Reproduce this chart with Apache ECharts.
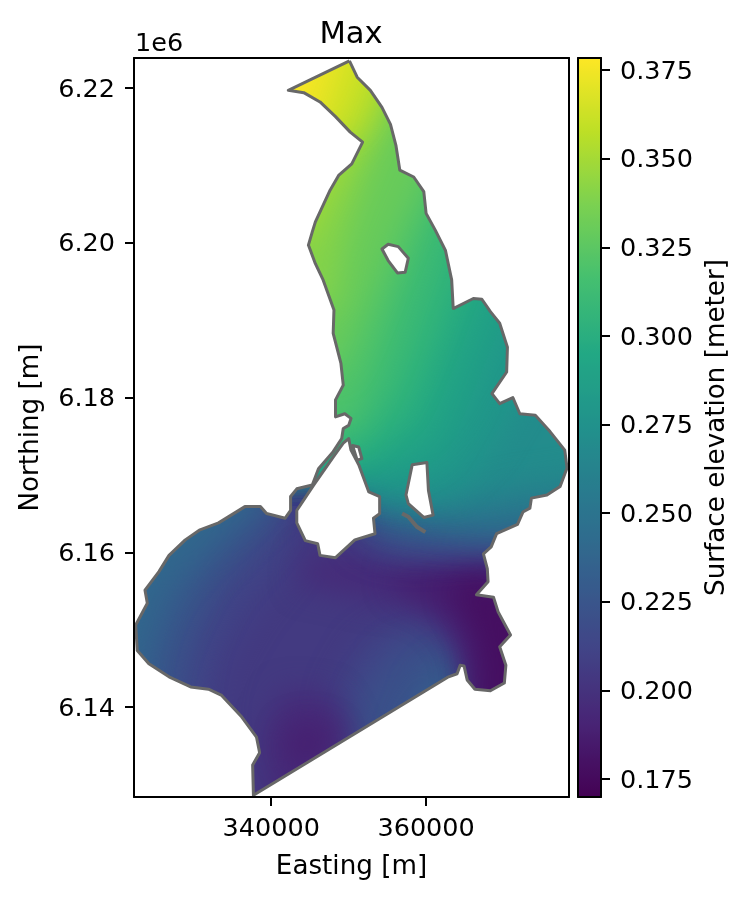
<!DOCTYPE html>
<html>
<head>
<meta charset="utf-8">
<title>Max</title>
<script src="https://cdn.jsdelivr.net/npm/echarts@6/dist/echarts.min.js"></script>
<style>
  html, body { margin: 0; padding: 0; background: #fff; }
  #chart { width: 751px; height: 898px; }
</style>
</head>
<body>
<div id="chart"></div>
<script>
const eastingRange = [322280, 378450];
const northingRange = [6128370, 6223880];
const colorRange = [0.1699, 0.3784];
const eastingTicks = [340000, 360000];
const northingTicks = [6140000, 6160000, 6180000, 6200000, 6220000];
const colorTicks = [0.175, 0.2, 0.225, 0.25, 0.275, 0.3, 0.325, 0.35, 0.375];
const viridis = ['#440154', '#482475', '#414487', '#355f8d', '#2a788e', '#21918c', '#22a884', '#44bf70', '#7ad151', '#bddf26', '#fde725'];

// lake shore, clockwise from the north tip
const shoreline = [
  [350100,6223500],[351100,6221400],[352800,6219700],[354300,6217500],[355400,6215300],[356100,6212600],
  [356600,6209400],[358400,6208500],[359700,6206600],[360000,6203800],[361200,6201600],[362500,6199000],
  [363300,6195200],[363500,6191500],[366100,6192800],[367200,6192700],[368300,6191100],[369500,6189600],
  [370500,6186500],[370400,6183300],[368500,6180500],[369500,6179200],[371200,6180000],[372100,6177900],
  [374100,6177700],[376000,6175600],[377900,6173200],[378200,6170900],[377300,6168500],[375600,6167400],
  [373600,6167000],[373400,6165700],[372500,6165200],[371800,6163600],[369100,6162400],[368400,6160700],
  [367400,6159800],[367900,6157900],[368000,6156200],[366500,6154500],[368700,6154200],[369300,6152300],
  [370900,6149300],[369500,6147800],[370300,6145400],[370100,6143100],[368300,6142100],[366300,6142300],
  [365300,6143500],[364900,6145300],[364400,6145400],[364000,6144300],[362900,6143900],[337700,6128600],
  [337600,6132500],[338500,6134100],[338100,6136100],[336200,6138700],[333600,6141500],[331900,6142300],
  [329600,6142600],[326800,6143900],[324200,6145600],[322700,6147300],[322500,6150600],[324000,6153400],
  [323700,6155100],[325500,6157500],[326800,6159600],[328900,6161600],[330800,6162900],[333200,6163800],
  [336600,6165900],[338600,6165900],[339400,6165000],[341800,6164400],[342500,6165400],[342500,6167200],
  [343300,6168200],[345300,6168700],[346100,6170800],[348000,6173000],[349100,6174700],[349300,6176000],
  [350000,6176400],[350300,6177300],[349500,6177900],[348300,6177500],[348300,6179700],[349300,6181600],
  [349000,6184400],[348000,6188300],[348100,6191300],[346700,6195200],[345700,6197300],[344800,6199700],
  [345300,6201400],[345700,6202700],[347600,6206800],[348700,6208700],[350400,6210200],[351800,6213000],
  [350200,6214300],[348300,6216300],[346300,6218200],[344200,6219400],[342200,6219700]
];
const islandNorth = [[354300,6199200],[355100,6199800],[356400,6199500],[357700,6198000],[357300,6196200],[356300,6196100],[355100,6197700]];
const islandMiddle = [[358200,6171300],[360100,6171600],[360300,6168000],[360900,6164800],[359700,6164500],[357700,6166300],[357400,6167400]];
const islandLarge = [
  [345500,6168700],[348000,6172300],[349300,6174100],[350000,6174700],[350300,6173200],[351300,6171300],
  [352600,6167800],[354000,6167200],[354000,6165000],[353200,6164400],[353400,6162400],[350800,6161600],
  [348300,6159300],[346300,6159600],[346000,6161100],[344400,6161500],[343300,6163800],[343300,6165400]
];
const islandSmall = [[350500,6173800],[351300,6173600],[351700,6172100],[351100,6171900]];
const sandBar = [[356900,6165000],[357700,6164600],[358800,6163300],[359900,6162600]];

const baseLevel = 0.205;
const westLevels = [0.21, 0.22, 0.23, 0.24];
const westLines = [
  [[332800,6140900],[334100,6146000],[337900,6152500],[343100,6158900],[342700,6162900],[342200,6169300]],
  [[329600,6142200],[330800,6148600],[334100,6155100],[339200,6160900],[341400,6164100],[341900,6169300]],
  [[325700,6144100],[327600,6149900],[330800,6156400],[336000,6162200],[339600,6165400],[340500,6169300]],
  [[323100,6146000],[324400,6150600],[326300,6155100],[331500,6160900],[337300,6166100],[338800,6169300]]
];
const patchLevels = [0.212, 0.222, 0.232, 0.195, 0.186, 0.178, 0.195, 0.187];
const patches = [
  [[347600,6133100],[348300,6142200],[351500,6148000],[356600,6151200],[362500,6151200],[365700,6147300],[367000,6135000]],
  [[349500,6133100],[352100,6142200],[356000,6147300],[361200,6148600],[364100,6146700],[365700,6135000]],
  [[356600,6135000],[359900,6143500],[362800,6146000],[364600,6145000],[365700,6135000]],
  [[344400,6159600],[351500,6159600],[359200,6158700],[368300,6159900],[376000,6148600],[375000,6135000],[365700,6135000],[364600,6147300],[361800,6151200],[357900,6153400],[352800,6153800],[347600,6155100],[343700,6155700]],
  [[355400,6157400],[361800,6157400],[367000,6158200],[372000,6153800],[375000,6135000],[367000,6135000],[366100,6146000],[364400,6150600],[360500,6153800],[356600,6155100]],
  [[363100,6155700],[368300,6157000],[374000,6149900],[374000,6135000],[367200,6135000],[367000,6147300],[365700,6151200]],
  [[339900,6124000],[338800,6136400],[341800,6142200],[347600,6141600],[350500,6136400],[345000,6125000]],
  [[343100,6131600],[341800,6136400],[345000,6138000],[348600,6135900]]
];
const northLevels = [0.21, 0.22, 0.23, 0.24, 0.25, 0.26, 0.27, 0.28, 0.29, 0.30, 0.31, 0.32, 0.33, 0.34, 0.35, 0.36, 0.37, 0.38];
const northLines = [
  [[348900,6170600],[351500,6160900],[356600,6159400],[361800,6159600],[367000,6160000],[385000,6162900]],
  [[348900,6170600],[353400,6161800],[356600,6160500],[361800,6160700],[367000,6160800],[385000,6163100]],
  [[348900,6170600],[354100,6162900],[361800,6161800],[368300,6161800],[385000,6163600]],
  [[349500,6170600],[355100,6164100],[361800,6163000],[368300,6162600],[385000,6164400]],
  [[349500,6170600],[355100,6165400],[363100,6164100],[368300,6163400],[385000,6165200]],
  [[349500,6170600],[354700,6166500],[363100,6165400],[372100,6166300],[385000,6167000]],
  [[349500,6170600],[354700,6167100],[363100,6166700],[372100,6168800],[377300,6169500],[385000,6171000]],
  [[349500,6170600],[354100,6168000],[359200,6167800],[363400,6168400],[368300,6173200],[372100,6179600],[375300,6186100],[385000,6192600]],
  [[353000,6170100],[357900,6170600],[361800,6172600],[365700,6179600],[369500,6189300],[372100,6195200]],
  [[352100,6171600],[359200,6176400],[363100,6186100],[366300,6193900],[368300,6199000]],
  [[351200,6173800],[356600,6179600],[359900,6187400],[363100,6196400],[365700,6205500]],
  [[350500,6176400],[354100,6184800],[356600,6192600],[359900,6201600],[363100,6209400]],
  [[348900,6183500],[352800,6192600],[356600,6201600],[360500,6209400]],
  [[348000,6191300],[349500,6200300],[353400,6212000],[356000,6217100]],
  [[344400,6200300],[348300,6208100],[352100,6213900],[354700,6219700]],
  [[350200,6213900],[352800,6218400],[354700,6224200]],
  [[347000,6213900],[348700,6218400],[350800,6224200]],
  [[343800,6216000],[345000,6220000],[346300,6224200]]
];

const outlineColor = '#686868';
const textFont = '"DejaVu Sans", sans-serif';
const tickSize = 25.5;
const nameSize = 26.2;
const fieldBlur = 30;
const blurShift = 2000; // bands are drawn off canvas so only their soft shadow lands in the frame

const pad = 12000; // bands and mask reach past the frame, the series clip cuts them
const outerLeft = eastingRange[0] - pad, outerRight = eastingRange[1] + pad;
const outerBottom = northingRange[0] - pad, outerTop = northingRange[1] + pad;

// build closed rings for the painted bands
let rings = [];
let levels = [];
rings.push([[outerLeft, outerBottom], [outerRight, outerBottom], [outerRight, outerTop], [outerLeft, outerTop]]);
levels.push(baseLevel);
westLines.forEach(function (line, i) {
  let first = line[0], last = line[line.length - 1];
  rings.push([[first[0], outerBottom]].concat(line, [[outerLeft, last[1]], [outerLeft, outerBottom]]));
  levels.push(westLevels[i]);
});
patches.forEach(function (ring, i) {
  rings.push(ring);
  levels.push(patchLevels[i]);
});
northLines.forEach(function (line, i) {
  let first = line[0], last = line[line.length - 1];
  rings.push(line.concat([[last[0], outerTop], [outerLeft, outerTop], [outerLeft, first[1]]]));
  levels.push(northLevels[i]);
});
const bandData = levels.map(function (v, i) { return [i, v]; });

// white cover for everything outside the shore, a keyhole ring around the lake
const tip = shoreline[0];
const landMask = shoreline.concat([tip, [tip[0], outerTop], [outerLeft, outerTop], [outerLeft, outerBottom], [outerRight, outerBottom], [outerRight, outerTop], [tip[0], outerTop], tip]);

function toPixels(api, ring) {
  return ring.map(function (p) { return api.coord(p); });
}

function closed(ring) {
  return ring.concat([ring[0]]);
}

function outlineSeries(points, width) {
  return {
    type: 'line',
    data: points,
    symbol: 'none',
    silent: true,
    z: 5,
    lineStyle: { color: outlineColor, width: width, join: 'round' }
  };
}

function frameAxis(gridIndex, position, range) {
  return {
    type: 'value',
    gridIndex: gridIndex,
    position: position,
    min: range[0],
    max: range[1],
    z: 10,
    axisLine: { show: true, onZero: false, lineStyle: { color: '#000', width: 2 } },
    axisTick: { show: false },
    axisLabel: { show: false },
    splitLine: { show: false }
  };
}

function tickedAxis(gridIndex, position, range, ticks, format, name, nameGap) {
  let axis = frameAxis(gridIndex, position, range);
  axis.axisTick = { show: true, customValues: ticks, length: 9, lineStyle: { color: '#000', width: 2 } };
  axis.axisLabel = { show: true, customValues: ticks, formatter: format, margin: 19, color: '#000', fontFamily: textFont, fontSize: tickSize };
  if (position === 'left' || position === 'right') {
    // nudge the vertical tick labels down onto their ticks
    axis.axisLabel.formatter = function (v) { return '{t|' + format(v) + '}'; };
    axis.axisLabel.rich = { t: { color: '#000', fontFamily: textFont, fontSize: tickSize, padding: [4, 0, 0, 0] } };
  }
  axis.name = name;
  axis.nameLocation = 'middle';
  axis.nameGap = nameGap;
  axis.nameTextStyle = { color: '#000', fontFamily: textFont, fontSize: nameSize };
  return axis;
}

const chart = echarts.init(document.getElementById('chart'), null, { devicePixelRatio: 1 });
chart.setOption({
  animation: false,
  backgroundColor: '#fff',
  title: {
    text: 'Max',
    left: 346,
    top: 15,
    textAlign: 'center',
    textStyle: { color: '#000', fontFamily: textFont, fontSize: 30.6, fontWeight: 'normal' }
  },
  graphic: [{
    type: 'text',
    left: 135,
    top: 31,
    style: { text: '1e6', fill: '#000', font: tickSize + 'px ' + textFont }
  }],
  grid: [
    { left: 134, top: 58, width: 435, height: 739 },
    { left: 578, top: 58, width: 23, height: 739 }
  ],
  xAxis: [
    tickedAxis(0, 'bottom', eastingRange, eastingTicks, function (v) { return String(v); }, 'Easting [m]', 57),
    frameAxis(0, 'top', eastingRange),
    frameAxis(1, 'bottom', [0, 1]),
    frameAxis(1, 'top', [0, 1])
  ],
  yAxis: [
    tickedAxis(0, 'left', northingRange, northingTicks, function (v) { return (v / 1e6).toFixed(2); }, 'Northing [m]', 90),
    frameAxis(0, 'right', northingRange),
    frameAxis(1, 'left', colorRange),
    tickedAxis(1, 'right', colorRange, colorTicks, function (v) { return v.toFixed(3); }, 'Surface elevation [meter]', 103)
  ],
  visualMap: {
    type: 'continuous',
    seriesIndex: 0,
    dimension: 1,
    min: colorRange[0],
    max: colorRange[1],
    left: 578,
    top: 58,
    itemWidth: 23,
    itemHeight: 739,
    padding: 0,
    calculable: false,
    hoverLink: false,
    inRange: { color: viridis }
  },
  series: [
    {
      type: 'custom',
      silent: true,
      clip: true,
      z: 2,
      data: bandData,
      renderItem: function (params, api) {
        let color = api.visual('color');
        let points = toPixels(api, rings[api.value(0)]).map(function (p) { return [p[0] - blurShift, p[1]]; });
        return {
          type: 'polygon',
          shape: { points: points },
          style: { fill: color, shadowColor: color, shadowBlur: fieldBlur, shadowOffsetX: blurShift }
        };
      }
    },
    {
      type: 'custom',
      silent: true,
      clip: true,
      z: 3,
      data: [[0]],
      renderItem: function (params, api) {
        return {
          type: 'polygon',
          shape: { points: toPixels(api, landMask) },
          style: { fill: '#fff', stroke: '#fff', lineWidth: 1 }
        };
      }
    },
    {
      type: 'custom',
      silent: true,
      z: 4,
      data: [[0], [1], [2], [3]],
      renderItem: function (params, api) {
        let isles = [islandNorth, islandMiddle, islandLarge, islandSmall];
        return {
          type: 'polygon',
          shape: { points: toPixels(api, isles[api.value(0)]) },
          style: { fill: '#fff', stroke: outlineColor, lineWidth: 3, lineJoin: 'round' }
        };
      }
    },
    outlineSeries(closed(shoreline), 3),
    outlineSeries(sandBar, 4)
  ]
});
</script>
</body>
</html>
